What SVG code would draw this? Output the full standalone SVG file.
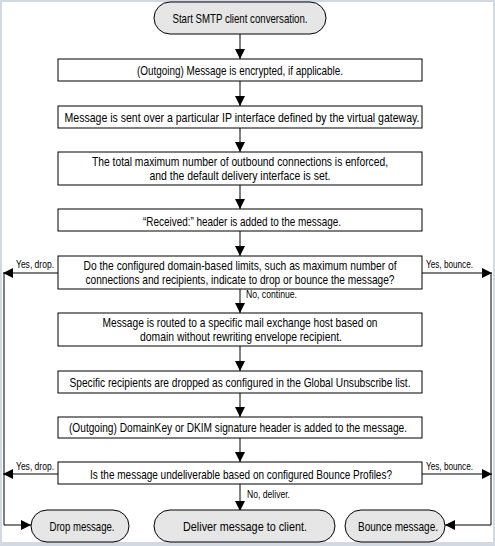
<svg xmlns="http://www.w3.org/2000/svg" width="495" height="546" viewBox="0 0 495 546">
<defs>
<marker id="ah" markerWidth="10" markerHeight="10" refX="10" refY="5" orient="auto" markerUnits="userSpaceOnUse">
<path d="M0,0 L10,5 L0,10 Z" fill="#000"/>
</marker>
<style>
.box{fill:#fff;stroke:#000;stroke-width:1}
.pill{fill:#e6e6e6;stroke:#000;stroke-width:1}
.t{font-family:"Liberation Sans Narrow","Liberation Sans",sans-serif;font-size:13.5px;fill:#000;text-anchor:middle}
.s{font-family:"Liberation Sans Narrow","Liberation Sans",sans-serif;font-size:11px;fill:#000}
.c{stroke:#000;stroke-width:1;fill:none}
.ca{stroke:#000;stroke-width:1;fill:none;marker-end:url(#ah)}
</style>
</defs>
<rect x="0" y="0" width="495" height="546" fill="#d3d9e3"/>
<rect x="2" y="2" width="491" height="540" fill="#fff"/>

<g id="connectors">
<line class="ca" x1="240" y1="34" x2="240" y2="59"/>
<line class="ca" x1="240" y1="81" x2="240" y2="106"/>
<line class="ca" x1="240" y1="128" x2="240" y2="152"/>
<line class="ca" x1="240" y1="185" x2="240" y2="209"/>
<line class="ca" x1="240" y1="231" x2="240" y2="256"/>
<line class="ca" x1="240" y1="289" x2="240" y2="313"/>
<line class="ca" x1="240" y1="346" x2="240" y2="371"/>
<line class="ca" x1="240" y1="393" x2="240" y2="417"/>
<line class="ca" x1="240" y1="438" x2="240" y2="462"/>
<line class="ca" x1="240" y1="484" x2="240" y2="511"/>
<line class="ca" x1="58" y1="273" x2="3" y2="273"/>
<line class="ca" x1="58" y1="474" x2="3" y2="474"/>
<polyline class="ca" points="4,273 4,525 31,525"/>
<line class="ca" x1="422" y1="273" x2="492" y2="273"/>
<line class="ca" x1="422" y1="474" x2="492" y2="474"/>
<polyline class="ca" points="491,273 491,525 445,525"/>
<text class="s" x="246" y="298" textLength="51" lengthAdjust="spacingAndGlyphs">No, continue.</text>
<text class="s" x="247" y="498" textLength="43" lengthAdjust="spacingAndGlyphs">No, deliver.</text>
<text class="s" x="16" y="268" textLength="38" lengthAdjust="spacingAndGlyphs">Yes, drop.</text>
<text class="s" x="16" y="470" textLength="38" lengthAdjust="spacingAndGlyphs">Yes, drop.</text>
<text class="s" x="426" y="268" textLength="47" lengthAdjust="spacingAndGlyphs">Yes, bounce.</text>
<text class="s" x="426" y="470" textLength="47" lengthAdjust="spacingAndGlyphs">Yes, bounce.</text>
</g>

<g id="start">
<rect class="pill" x="154" y="2" width="172" height="32" rx="16" ry="16"/>
<text class="t" x="240" y="22.5" textLength="135" lengthAdjust="spacingAndGlyphs">Start SMTP client conversation.</text>
</g>
<g id="encrypt">
<rect class="box" x="58" y="59" width="364" height="22"/>
<text class="t" x="240" y="75" textLength="206" lengthAdjust="spacingAndGlyphs">(Outgoing) Message is encrypted, if applicable.</text>
</g>
<g id="interface">
<rect class="box" x="58" y="106" width="364" height="22"/>
<text class="t" x="242" y="122" textLength="355" lengthAdjust="spacingAndGlyphs">Message is sent over a particular IP interface defined by the virtual gateway.</text>
</g>
<g id="maxconn">
<rect class="box" x="58" y="152" width="364" height="33"/>
<text class="t" x="240" y="166" textLength="296" lengthAdjust="spacingAndGlyphs">The total maximum number of outbound connections is enforced,</text>
<text class="t" x="240" y="180" textLength="181" lengthAdjust="spacingAndGlyphs">and the default delivery interface is set.</text>
</g>
<g id="received">
<rect class="box" x="58" y="209" width="364" height="22"/>
<text class="t" x="242" y="226" textLength="198" lengthAdjust="spacingAndGlyphs">“Received:” header is added to the message.</text>
</g>
<g id="limits">
<rect class="box" x="58" y="256" width="364" height="33"/>
<text class="t" x="240" y="270" textLength="313" lengthAdjust="spacingAndGlyphs">Do the configured domain-based limits, such as maximum number of</text>
<text class="t" x="240" y="284" textLength="309" lengthAdjust="spacingAndGlyphs">connections and recipients, indicate to drop or bounce the message?</text>
</g>
<g id="routed">
<rect class="box" x="58" y="313" width="364" height="33"/>
<text class="t" x="240" y="327" textLength="275" lengthAdjust="spacingAndGlyphs">Message is routed to a specific mail exchange host based on</text>
<text class="t" x="241" y="341" textLength="202" lengthAdjust="spacingAndGlyphs">domain without rewriting envelope recipient.</text>
</g>
<g id="unsubscribe">
<rect class="box" x="58" y="371" width="364" height="22"/>
<text class="t" x="240" y="387" textLength="341" lengthAdjust="spacingAndGlyphs">Specific recipients are dropped as configured in the Global Unsubscribe list.</text>
</g>
<g id="dkim">
<rect class="box" x="58" y="417" width="364" height="21"/>
<text class="t" x="238" y="432" textLength="338" lengthAdjust="spacingAndGlyphs">(Outgoing) DomainKey or DKIM signature header is added to the message.</text>
</g>
<g id="bounceprof">
<rect class="box" x="58" y="462" width="364" height="22"/>
<text class="t" x="241" y="479" textLength="302" lengthAdjust="spacingAndGlyphs">Is the message undeliverable based on configured Bounce Profiles?</text>
</g>
<g id="drop">
<rect class="pill" x="31" y="510" width="98" height="32" rx="16" ry="16"/>
<text class="t" x="82" y="531" textLength="65" lengthAdjust="spacingAndGlyphs">Drop message.</text>
</g>
<g id="deliver">
<rect class="pill" x="154" y="510" width="181" height="32" rx="16" ry="16"/>
<text class="t" x="245" y="531" textLength="124" lengthAdjust="spacingAndGlyphs">Deliver message to client.</text>
</g>
<g id="bounce">
<rect class="pill" x="345" y="510" width="100" height="32" rx="16" ry="16"/>
<text class="t" x="398" y="531" textLength="80" lengthAdjust="spacingAndGlyphs">Bounce message.</text>
</g>
</svg>
